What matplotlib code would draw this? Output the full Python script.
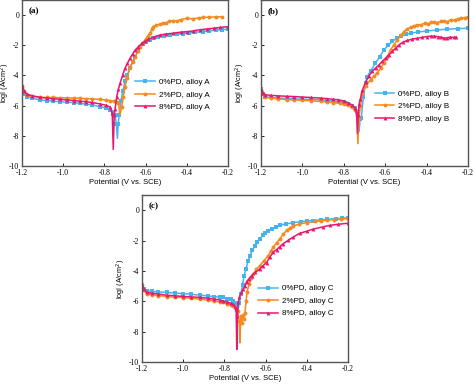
import matplotlib
matplotlib.use("Agg")
import matplotlib.pyplot as plt
import numpy as np

# ---------------- data ----------------
# Panel (a) alloy A
a0_x = [-1.2, -1.19, -1.177, -1.15, -1.113, -1.08, -1.05, -1.016, -0.98, -0.95, -0.918, -0.89, -0.86, -0.82, -0.79,
        -0.773, -0.76, -0.748, -0.742, -0.737, -0.733, -0.728, -0.72, -0.71, -0.70, -0.688, -0.676, -0.663, -0.65,
        -0.638, -0.627, -0.614, -0.60, -0.58, -0.563, -0.54, -0.51, -0.48, -0.45, -0.42, -0.39, -0.36, -0.32, -0.29,
        -0.26, -0.23, -0.2]
a0_y = [-4.97, -5.2, -5.41, -5.5, -5.63, -5.66, -5.7, -5.74, -5.77, -5.8, -5.85, -5.9, -5.95, -6.07, -6.15,
        -6.29, -6.4, -6.62, -7.2, -8.17, -7.2, -6.6, -5.7, -5.0, -4.4, -3.95, -3.53, -3.1, -2.76,
        -2.4, -2.1, -1.9, -1.77, -1.64, -1.55, -1.45, -1.38, -1.32, -1.27, -1.22, -1.18, -1.14, -1.1, -1.05,
        -1.0, -0.97, -0.93]
a2_x = [-1.2, -1.19, -1.177, -1.15, -1.113, -1.08, -1.05, -1.016, -0.98, -0.95, -0.918, -0.89, -0.86, -0.82, -0.79,
        -0.773, -0.755, -0.74, -0.732, -0.724, -0.716, -0.708, -0.70, -0.69, -0.676, -0.663, -0.65, -0.638, -0.627,
        -0.614, -0.60, -0.59, -0.579, -0.57, -0.564, -0.55, -0.53, -0.515, -0.50, -0.485, -0.467, -0.45, -0.43,
        -0.40, -0.37, -0.34, -0.32, -0.29, -0.26, -0.23]
a2_y = [-4.7, -5.05, -5.29, -5.38, -5.45, -5.46, -5.46, -5.47, -5.49, -5.5, -5.52, -5.54, -5.56, -5.58, -5.63,
        -5.67, -5.7, -5.74, -5.85, -6.6, -6.1, -5.4, -4.75, -4.2, -3.42, -3.1, -2.76, -2.4, -2.1,
        -1.85, -1.6, -1.4, -1.21, -0.95, -0.77, -0.68, -0.6, -0.55, -0.5, -0.42, -0.37, -0.4, -0.3,
        -0.22, -0.25, -0.18, -0.15, -0.14, -0.12, -0.11]
a8_x = [-1.2, -1.19, -1.177, -1.15, -1.113, -1.08, -1.05, -1.016, -0.98, -0.95, -0.918, -0.89, -0.86, -0.82, -0.79,
        -0.773, -0.762, -0.757, -0.752, -0.748, -0.74, -0.732, -0.724, -0.712, -0.70, -0.688, -0.676, -0.663, -0.651,
        -0.635, -0.619, -0.603, -0.587, -0.56, -0.53, -0.50, -0.465, -0.43, -0.40, -0.37, -0.336, -0.30, -0.27,
        -0.24, -0.2]
a8_y = [-4.6, -5.0, -5.23, -5.35, -5.45, -5.5, -5.54, -5.58, -5.62, -5.66, -5.7, -5.74, -5.79, -5.89, -5.98,
        -6.1, -6.51, -8.9, -6.6, -6.2, -5.4, -4.9, -4.52, -4.0, -3.53, -3.2, -2.87, -2.58, -2.32,
        -2.1, -1.88, -1.73, -1.61, -1.45, -1.32, -1.25, -1.2, -1.13, -1.1, -1.05, -0.97, -0.92, -0.87,
        -0.82, -0.77]

# Panel (b) alloy B
b0_x = [-1.2, -1.19, -1.18, -1.15, -1.12, -1.074, -1.04, -1.0, -0.96, -0.912, -0.88, -0.85, -0.82, -0.80, -0.78,
        -0.762, -0.745, -0.735, -0.726, -0.721, -0.716, -0.705, -0.694, -0.687, -0.67, -0.647, -0.626, -0.606,
        -0.585, -0.566, -0.545, -0.525, -0.50, -0.477, -0.44, -0.396, -0.35, -0.30, -0.25, -0.2]
b0_y = [-4.9, -5.2, -5.42, -5.46, -5.5, -5.53, -5.55, -5.57, -5.59, -5.62, -5.66, -5.7, -5.75, -5.79, -5.87,
        -6.0, -6.15, -6.4, -7.71, -6.9, -6.82, -5.4, -4.5, -4.07, -3.7, -3.18, -2.75, -2.3,
        -2.0, -1.75, -1.55, -1.4, -1.28, -1.2, -1.12, -1.05, -0.99, -0.93, -0.9, -0.87]
b2_x = [-1.2, -1.19, -1.18, -1.15, -1.12, -1.074, -1.04, -1.0, -0.96, -0.912, -0.88, -0.85, -0.82, -0.80, -0.78,
        -0.762, -0.745, -0.737, -0.732, -0.727, -0.72, -0.71, -0.695, -0.671, -0.655, -0.638, -0.622, -0.606,
        -0.59, -0.574, -0.557, -0.541, -0.525, -0.509, -0.493, -0.477, -0.46, -0.445, -0.428, -0.41, -0.395,
        -0.38, -0.365, -0.35, -0.331, -0.315, -0.3, -0.283, -0.265, -0.25, -0.234, -0.215, -0.2]
b2_y = [-4.95, -5.25, -5.45, -5.5, -5.55, -5.6, -5.62, -5.65, -5.68, -5.72, -5.75, -5.8, -5.85, -5.9, -5.97,
        -6.1, -6.3, -6.6, -8.52, -6.8, -6.05, -5.2, -4.73, -4.28, -4.05, -3.84, -3.5, -3.18,
        -2.75, -2.3, -1.95, -1.64, -1.35, -1.09, -0.92, -0.8, -0.72, -0.66, -0.64, -0.55, -0.6,
        -0.49, -0.45, -0.5, -0.42, -0.38, -0.44, -0.31, -0.35, -0.25, -0.2, -0.17, -0.13]
b8_x = [-1.2, -1.19, -1.18, -1.15, -1.12, -1.074, -1.04, -1.0, -0.96, -0.912, -0.88, -0.85, -0.826, -0.80, -0.78,
        -0.762, -0.745, -0.738, -0.734, -0.73, -0.726, -0.72, -0.71, -0.695, -0.68, -0.663, -0.646, -0.63, -0.614,
        -0.598, -0.582, -0.566, -0.55, -0.533, -0.515, -0.493, -0.47, -0.444, -0.42, -0.396, -0.38, -0.363,
        -0.347, -0.331, -0.315, -0.3, -0.285, -0.27, -0.258]
b8_y = [-4.9, -5.15, -5.28, -5.32, -5.35, -5.38, -5.4, -5.43, -5.46, -5.5, -5.54, -5.58, -5.61, -5.7, -5.8,
        -5.94, -6.15, -6.5, -7.83, -6.6, -5.9, -5.55, -4.96, -4.46, -4.05, -3.73, -3.5, -3.3, -3.07,
        -2.85, -2.63, -2.41, -2.2, -1.97, -1.8, -1.68, -1.6, -1.53, -1.47, -1.42, -1.4, -1.39,
        -1.43, -1.46, -1.53, -1.5, -1.46, -1.48, -1.46]

# Panel (c) alloy C
c0_x = [-1.2, -1.19, -1.177, -1.15, -1.12, -1.08, -1.04, -1.0, -0.96, -0.92, -0.88, -0.85, -0.82, -0.806, -0.785,
        -0.77, -0.757, -0.745, -0.738, -0.733, -0.727, -0.72, -0.712, -0.704, -0.695, -0.685, -0.676, -0.665,
        -0.652, -0.64, -0.628, -0.615, -0.603, -0.59, -0.571, -0.55, -0.531, -0.5, -0.466, -0.43, -0.40, -0.369,
        -0.33, -0.30, -0.26, -0.23, -0.2]
c0_y = [-4.9, -5.2, -5.31, -5.35, -5.38, -5.42, -5.46, -5.5, -5.54, -5.6, -5.65, -5.7, -5.73, -5.75, -5.82,
        -5.88, -5.97, -6.1, -6.25, -6.5, -6.1, -5.5, -4.9, -4.31, -3.85, -3.32, -3.0, -2.65,
        -2.35, -2.1, -1.9, -1.66, -1.5, -1.38, -1.26, -1.1, -0.99, -0.9, -0.82, -0.76, -0.72, -0.68,
        -0.64, -0.6, -0.56, -0.53, -0.51]
c2_x = [-1.2, -1.19, -1.177, -1.15, -1.12, -1.08, -1.04, -1.0, -0.96, -0.92, -0.88, -0.85, -0.82, -0.806, -0.785,
        -0.77, -0.757, -0.745, -0.735, -0.728, -0.725, -0.72, -0.715, -0.71, -0.705, -0.70, -0.695, -0.69, -0.68,
        -0.67, -0.66, -0.645, -0.628, -0.61, -0.587, -0.575, -0.563, -0.547, -0.531, -0.515, -0.498, -0.48,
        -0.466, -0.44, -0.401, -0.36, -0.33, -0.304, -0.27, -0.235, -0.2]
c2_y = [-4.9, -5.25, -5.53, -5.58, -5.62, -5.69, -5.73, -5.76, -5.8, -5.86, -5.92, -5.98, -6.05, -6.08, -6.15,
        -6.22, -6.3, -6.45, -6.64, -7.3, -8.74, -7.0, -7.4, -6.9, -7.2, -6.8, -6.0, -5.4, -4.87,
        -4.45, -4.2, -3.9, -3.65, -3.35, -2.99, -2.7, -2.43, -2.15, -1.88, -1.6, -1.33, -1.17,
        -1.04, -0.93, -0.82, -0.74, -0.7, -0.66, -0.62, -0.58, -0.55]
c8_x = [-1.2, -1.19, -1.177, -1.15, -1.12, -1.08, -1.04, -1.0, -0.96, -0.92, -0.88, -0.85, -0.82, -0.806, -0.785,
        -0.77, -0.757, -0.748, -0.743, -0.74, -0.737, -0.733, -0.727, -0.717, -0.709, -0.70, -0.692, -0.68, -0.668,
        -0.65, -0.628, -0.612, -0.595, -0.58, -0.563, -0.547, -0.531, -0.515, -0.49, -0.466, -0.434, -0.401,
        -0.37, -0.321, -0.289, -0.25, -0.2]
c8_y = [-4.9, -5.2, -5.42, -5.47, -5.52, -5.6, -5.64, -5.68, -5.71, -5.75, -5.8, -5.86, -5.92, -5.97, -6.05,
        -6.12, -6.2, -6.35, -6.53, -9.18, -6.97, -6.08, -5.7, -5.42, -5.2, -4.98, -4.7, -4.5, -4.31,
        -4.1, -3.87, -3.65, -3.45, -3.1, -2.76, -2.6, -2.4, -2.21, -1.98, -1.77, -1.52, -1.39,
        -1.25, -1.1, -1.0, -0.93, -0.86]

labels_a = ["0%PD, alloy A", "2%PD, alloy A", "8%PD, alloy A"]
labels_b = ["0%PD, alloy B", "2%PD, alloy B", "8%PD, alloy B"]
labels_c = ["0%PD, alloy C", "2%PD, alloy C", "8%PD, alloy C"]
panel_tags = ["(a)", "(b)", "(c)"]
x_ticks = [-1.2, -1.0, -0.8, -0.6, -0.4, -0.2]
y_ticks = [0, -2, -4, -6, -8, -10]

colors = ["#45b4ee", "#f58a1f", "#e8176f"]
markers = ["s", "o", "^"]

SERIF = ["Liberation Serif", "DejaVu Serif"]
SANS = ["Liberation Sans", "DejaVu Sans"]

fig = plt.figure(figsize=(4.74, 3.85), dpi=100)

positions = [
    [22 / 474, 1 - 166 / 385, 206 / 474, 166 / 385],
    [261 / 474, 1 - 166 / 385, 207 / 474, 166 / 385],
    [142 / 474, 23 / 385, 206 / 474, 167 / 385],
]
panels = [
    ([(a0_x, a0_y), (a2_x, a2_y), (a8_x, a8_y)], labels_a),
    ([(b0_x, b0_y), (b2_x, b2_y), (b8_x, b8_y)], labels_b),
    ([(c0_x, c0_y), (c2_x, c2_y), (c8_x, c8_y)], labels_c),
]
legend_y = [0.428, 0.36, 0.365]
legend_x = [0.55, 0.55, 0.565]
ylabel_x = [-0.047, -0.068, -0.068]

for i, (pos, (series, labels)) in enumerate(zip(positions, panels)):
    ax = fig.add_axes(pos)
    for (xs, ys), col, mk, lab in zip(series, colors, markers, labels):
        ys_arr = np.asarray(ys)
        dip = int(np.argmin(ys_arr))
        mask = [j != dip for j in range(len(ys))]
        ax.plot(xs, ys, color=col, lw=1.1, marker=mk, ms=2.8, mew=0,
                markevery=mask, label=lab)
    ax.set_xlim(-1.2, -0.2)
    ax.set_ylim(-10, 1)
    ax.set_xticks(x_ticks)
    ax.set_yticks(y_ticks)
    ax.set_xticklabels([f"{t:.1f}" for t in x_ticks], fontfamily=SERIF, fontsize=5.5)
    ax.set_yticklabels([f"{t}" for t in y_ticks], fontfamily=SERIF, fontsize=5.5)
    ax.tick_params(direction="in", length=2.5, width=0.6, pad=2)
    for sp in ax.spines.values():
        sp.set_color("#555555")
        sp.set_linewidth(1.0)
    ax.set_xlabel("Potential (V vs. SCE)", fontfamily=SANS, fontsize=5.5, labelpad=1.5)
    ax.set_ylabel("logI (A/cm$^2$)", fontfamily=SANS, fontsize=5.2)
    ax.yaxis.set_label_coords(ylabel_x[i], 0.5)
    ax.text(0.03, 0.955, panel_tags[i], transform=ax.transAxes, fontfamily=SERIF,
            fontweight="bold", fontsize=6.5, va="top", ha="left")
    ax.legend(loc="center left", bbox_to_anchor=(legend_x[i], legend_y[i]), frameon=False,
              prop={"family": SANS, "size": 5.8}, handlelength=2.4, handletextpad=0.5,
              labelspacing=0.6, borderaxespad=0, borderpad=0)

fig.savefig("out.png", dpi=100)
